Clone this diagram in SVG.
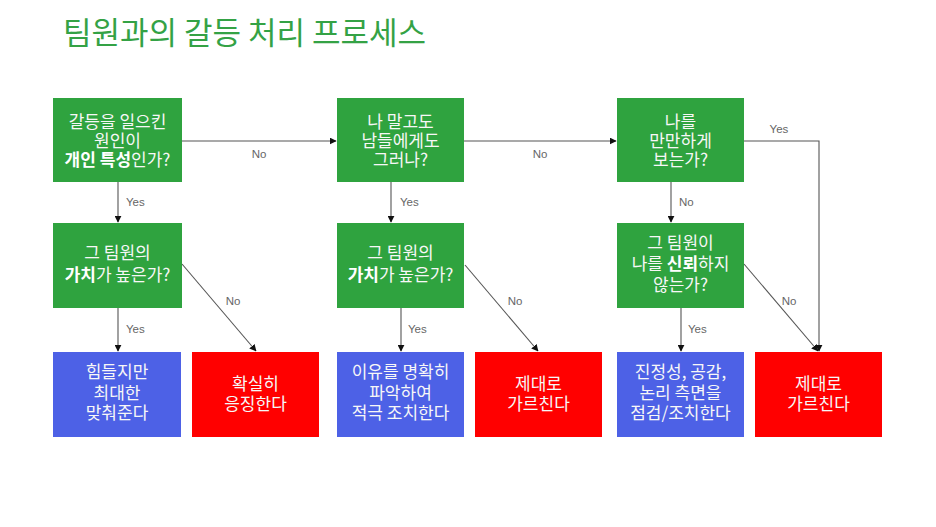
<svg xmlns="http://www.w3.org/2000/svg" width="936" height="527" viewBox="0 0 936 527">
<style>
.title{font-family:"Noto Sans CJK KR","Noto Sans",sans-serif;font-size:31px;fill:#34a245;}
.q rect{fill:#2fa33f;}
.b rect{fill:#4d61e6;}
.r rect{fill:#ff0000;}
.t{font-family:"Noto Sans CJK KR","Noto Sans",sans-serif;font-size:17px;fill:#f7f7f7;text-anchor:middle;}
.t .bd{font-weight:bold;fill:#ffffff;}
.lbl{font-family:"Liberation Sans","Open Sans",sans-serif;font-size:11.5px;fill:#666666;}
.c{stroke:#555555;stroke-width:1.1;fill:none;}
</style>
<defs>
<marker id="ah" viewBox="0 0 10 10" refX="9" refY="5" markerWidth="7" markerHeight="7" orient="auto" markerUnits="userSpaceOnUse">
<path d="M0,0 L10,5 L0,10 z" fill="#111111"/>
</marker>
</defs>
<rect width="936" height="527" fill="#ffffff"/>
<text class="title" x="63" y="44">팀원과의 갈등 처리 프로세스</text>

<g id="connectors">
<path class="c" d="M182,141 H336" marker-end="url(#ah)"/>
<path class="c" d="M464,141 H616" marker-end="url(#ah)"/>
<path class="c" d="M744,141 H819 V351" marker-end="url(#ah)"/>
<path class="c" d="M118,182 V222" marker-end="url(#ah)"/>
<path class="c" d="M391,182 V222" marker-end="url(#ah)"/>
<path class="c" d="M671,182 V222" marker-end="url(#ah)"/>
<path class="c" d="M118,308 V351" marker-end="url(#ah)"/>
<path class="c" d="M401,308 V351" marker-end="url(#ah)"/>
<path class="c" d="M681,308 V351" marker-end="url(#ah)"/>
<path class="c" d="M182,264 L256,351" marker-end="url(#ah)"/>
<path class="c" d="M465,265 L538,351" marker-end="url(#ah)"/>
<path class="c" d="M744,264 L818,351" marker-end="url(#ah)"/>
<text class="lbl" x="259" y="158" text-anchor="middle">No</text>
<text class="lbl" x="540" y="158" text-anchor="middle">No</text>
<text class="lbl" x="779" y="133" text-anchor="middle">Yes</text>
<text class="lbl" x="126" y="206">Yes</text>
<text class="lbl" x="400" y="206">Yes</text>
<text class="lbl" x="679" y="206">No</text>
<text class="lbl" x="126" y="333">Yes</text>
<text class="lbl" x="408" y="333">Yes</text>
<text class="lbl" x="688" y="333">Yes</text>
<text class="lbl" x="233" y="305" text-anchor="middle">No</text>
<text class="lbl" x="515" y="305" text-anchor="middle">No</text>
<text class="lbl" x="789" y="305" text-anchor="middle">No</text>
</g>

<g id="q1" class="q">
<rect x="53" y="98" width="129" height="84"/>
<text class="t" x="117.5" y="128">갈등을 일으킨</text>
<text class="t" x="117.5" y="147">원인이</text>
<text class="t" x="117.5" y="166"><tspan class="bd">개인 특성</tspan>인가?</text>
</g>
<g id="q2" class="q">
<rect x="53" y="223" width="129" height="85"/>
<text class="t" x="117.5" y="259">그 팀원의</text>
<text class="t" x="117.5" y="281"><tspan class="bd">가치</tspan>가 높은가?</text>
</g>
<g id="a1" class="b">
<rect x="53" y="352" width="128" height="85"/>
<text class="t" x="117" y="378">힘들지만</text>
<text class="t" x="117" y="399">최대한</text>
<text class="t" x="117" y="419">맞춰준다</text>
</g>
<g id="a2" class="r">
<rect x="192" y="352" width="127" height="85"/>
<text class="t" x="255.5" y="390">확실히</text>
<text class="t" x="255.5" y="410">응징한다</text>
</g>

<g id="q3" class="q">
<rect x="337" y="98" width="127" height="84"/>
<text class="t" x="400.5" y="128">나 말고도</text>
<text class="t" x="400.5" y="147">남들에게도</text>
<text class="t" x="400.5" y="166">그러나?</text>
</g>
<g id="q4" class="q">
<rect x="337" y="223" width="127" height="85"/>
<text class="t" x="400.5" y="259">그 팀원의</text>
<text class="t" x="400.5" y="281"><tspan class="bd">가치</tspan>가 높은가?</text>
</g>
<g id="a3" class="b">
<rect x="337" y="352" width="127" height="85"/>
<text class="t" x="400.5" y="378">이유를 명확히</text>
<text class="t" x="400.5" y="399">파악하여</text>
<text class="t" x="400.5" y="419">적극 조치한다</text>
</g>
<g id="a4" class="r">
<rect x="475" y="352" width="127" height="85"/>
<text class="t" x="538.5" y="390">제대로</text>
<text class="t" x="538.5" y="410">가르친다</text>
</g>

<g id="q5" class="q">
<rect x="617" y="98" width="127" height="84"/>
<text class="t" x="680.5" y="128">나를</text>
<text class="t" x="680.5" y="147">만만하게</text>
<text class="t" x="680.5" y="166">보는가?</text>
</g>
<g id="q6" class="q">
<rect x="617" y="223" width="127" height="85"/>
<text class="t" x="680.5" y="249">그 팀원이</text>
<text class="t" x="680.5" y="270">나를 <tspan class="bd">신뢰</tspan>하지</text>
<text class="t" x="680.5" y="291">않는가?</text>
</g>
<g id="a5" class="b">
<rect x="617" y="352" width="127" height="85"/>
<text class="t" x="680.5" y="378">진정성, 공감,</text>
<text class="t" x="680.5" y="399">논리 측면을</text>
<text class="t" x="680.5" y="419">점검/조치한다</text>
</g>
<g id="a6" class="r">
<rect x="755" y="352" width="127" height="85"/>
<text class="t" x="818.5" y="390">제대로</text>
<text class="t" x="818.5" y="410">가르친다</text>
</g>
</svg>
